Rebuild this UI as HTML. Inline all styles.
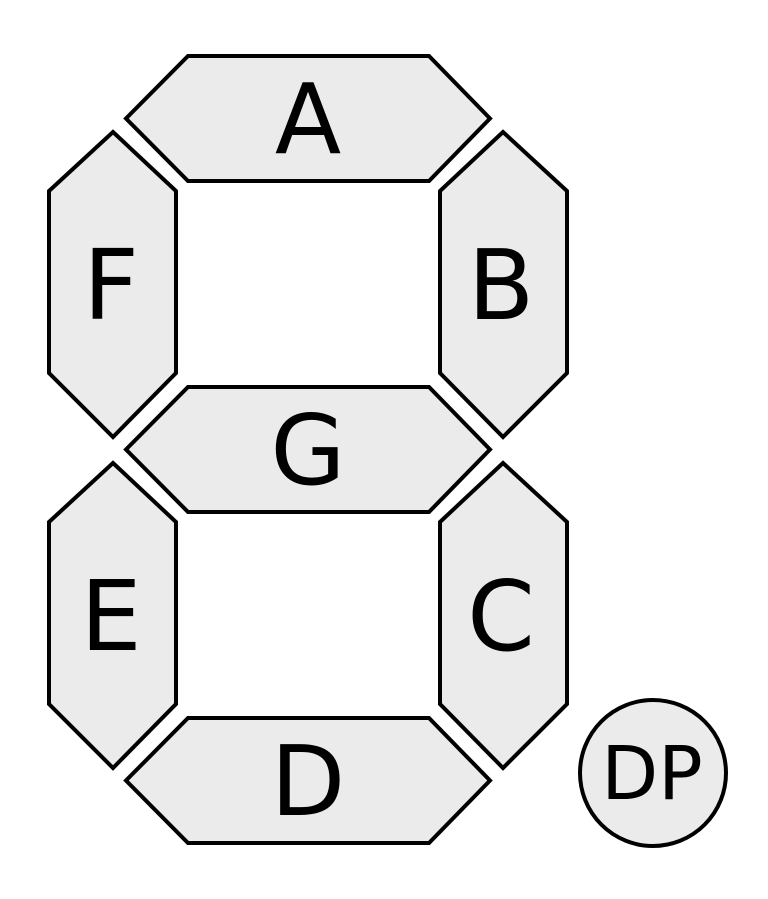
<!DOCTYPE html>
<html><head><meta charset="utf-8"><style>
html,body{margin:0;padding:0;background:#fff;}
svg{display:block;}
text{font-family:"DejaVu Sans","Liberation Sans",sans-serif;fill:#000;text-anchor:middle;}
</style></head><body>
<svg width="768" height="899" viewBox="0 0 768 899" xmlns="http://www.w3.org/2000/svg">
<g fill="#ebebeb" stroke="#000" stroke-width="4" stroke-linejoin="miter">
<polygon points="188,56 429,56 490,118.5 429,181 188,181 126,118.5"/>
<polygon points="188,387 429,387 490,449.5 429,512 188,512 126,449.5"/>
<polygon points="188,718 429,718 490,780.5 429,843 188,843 126,780.5"/>
<polygon points="113,132 176,191 176,373 113,437 49,373 49,191"/>
<polygon points="113,463 176,522 176,704 113,768 49,704 49,522"/>
<polygon points="503,132 567,191 567,373 503,437 440,373 440,191"/>
<polygon points="503,463 567,522 567,704 503,768 440,704 440,522"/>
<circle cx="653" cy="773" r="73"/>
</g>
<g font-size="97">
<text x="308" y="153">A</text>
<text x="111" y="319">F</text>
<text x="501" y="319">B</text>
<text x="308" y="484">G</text>
<text x="111" y="650">E</text>
<text x="501" y="650">C</text>
<text x="308" y="815">D</text>
</g>
<text x="652" y="799" font-size="74">DP</text>
</svg>
</body></html>
